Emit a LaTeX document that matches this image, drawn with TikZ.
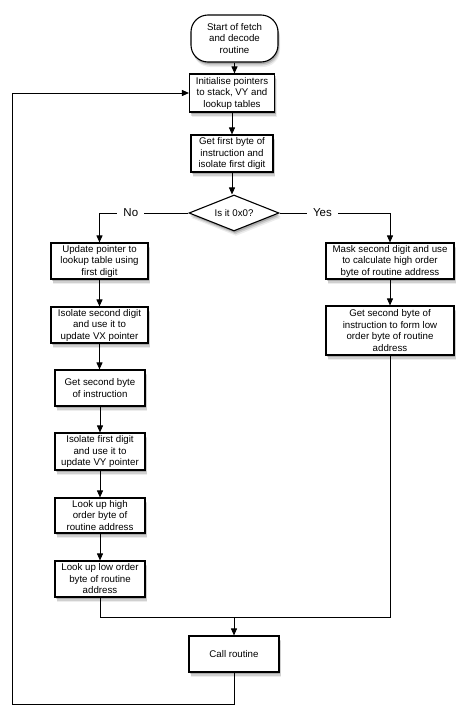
\documentclass[tikz,border=0pt]{standalone}
\usepackage{fontspec}
\setmainfont{Liberation Sans}
\usetikzlibrary{arrows.meta,shapes.geometric,shadows}
\begin{document}
\begin{tikzpicture}[x=1pt,y=-1pt,
  every node/.style={font=\fontsize{9.7}{11.5}\selectfont, align=center, inner sep=1pt},
  shade/.style={
    drop shadow={shadow xshift=1pt, shadow yshift=-2pt, opacity=0.18, fill=black},
    drop shadow={shadow xshift=1.5pt, shadow yshift=-3.5pt, opacity=0.12, fill=black},
    drop shadow={shadow xshift=2pt, shadow yshift=-5pt, opacity=0.07, fill=black}},
  procbox/.style={draw, line width=1.1pt, fill=white, shade},
  termbox/.style={draw, line width=1.1pt, fill=white, rounded corners=17pt, shade},
  decbox/.style={draw, line width=1.1pt, fill=white, diamond, aspect=2.5, inner sep=0pt, shade},
  conn/.style={line width=0.9pt, -{Triangle[length=7pt,width=6pt]}},
  plain/.style={line width=0.9pt},
  lbl/.style={font=\fontsize{11.5}{13}\selectfont, fill=white, inner xsep=6pt, inner ysep=1pt}
]
\useasboundingbox (0,0) rectangle (474,715);

\node[termbox, minimum width=87pt, minimum height=47pt] (start) at (234.5,38.5) {Start of fetch\\and decode\\routine};
\node[procbox, minimum width=85pt, minimum height=38pt] (init) at (232,93) {Initialise pointers\\to stack, VY and\\lookup tables};
\node[procbox, minimum width=82pt, minimum height=37pt] (first) at (232,153.5) {Get first byte of\\instruction and\\isolate first digit};
\node[decbox, minimum width=90pt, minimum height=36pt] (dec) at (234,213) {Is it 0x0?};

\node[procbox, minimum width=97pt, minimum height=36pt] (l1) at (99.5,261) {Update pointer to\\lookup table using\\first digit};
\node[procbox, minimum width=97pt, minimum height=36pt] (l2) at (99.5,325) {Isolate second digit\\and use it to\\update VX pointer};
\node[procbox, minimum width=90pt, minimum height=36pt] (l3) at (100,388) {Get second byte\\of instruction};
\node[procbox, minimum width=90pt, minimum height=37pt] (l4) at (100,451.5) {Isolate first digit\\and use it to\\update VY pointer};
\node[procbox, minimum width=90pt, minimum height=35pt] (l5) at (100,515.5) {Look up high\\order byte of\\routine address};
\node[procbox, minimum width=90pt, minimum height=36pt] (l6) at (100,579) {Look up low order\\byte of routine\\address};

\node[procbox, minimum width=128pt, minimum height=36pt] (r1) at (390,261) {Mask second digit and use\\to calculate high order\\byte of routine address};
\node[procbox, minimum width=128pt, minimum height=49pt] (r2) at (390,330.5) {Get second byte of\\instruction to form low\\order byte of routine\\address};

\node[procbox, minimum width=90pt, minimum height=36pt] (call) at (234,654) {Call routine};

\coordinate (join) at (234,617);
\coordinate (loopc) at (12,704);

\draw[conn] (start.south) -- (start.south |- init.north);
\draw[conn] (init.south) -- (first.north);
\draw[conn] (first.south) -- (first.south |- dec.north);

\draw[conn] (dec.west) -| node[lbl, pos=0.324] {No} (l1.north);
\draw[conn] (dec.east) -| node[lbl, pos=0.194] {Yes} (r1.north);

\draw[conn] (l1.south) -- (l2.north);
\draw[conn] (l2.south) -- (l2.south |- l3.north);
\draw[conn] (l3.south) -- (l4.north);
\draw[conn] (l4.south) -- (l5.north);
\draw[conn] (l5.south) -- (l6.north);
\draw[conn] (r1.south) -- (r2.north);

\draw[plain] (l6.south) |- (join);
\draw[plain] (r2.south) |- (join);
\draw[conn] (join) -- (call.north);

\draw[conn] (call.south) |- (loopc) |- (init.west);
\end{tikzpicture}
\end{document}
